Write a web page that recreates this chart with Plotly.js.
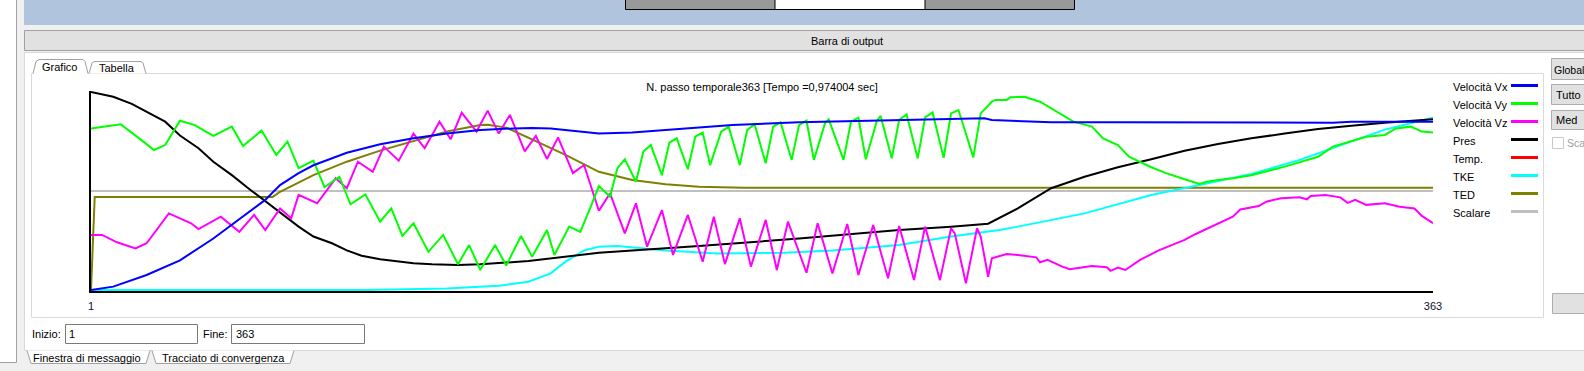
<!DOCTYPE html>
<html>
<head>
<meta charset="utf-8">
<script src="https://cdn.plot.ly/plotly-3.0.1.min.js"></script>
<style>
html,body{margin:0;padding:0;background:#f0f0f0;overflow:hidden;}
#chart{width:1584px;height:371px;}
</style>
</head>
<body>
<div id="chart"></div>
<script>
// ---------------- DATA (time step index, normalised value) ----------------
const chartTitle = 'N. passo temporale363 [Tempo =0,974004 sec]';
const tickSteps = [1, 363];
const tickLabels = ['1', '363'];
const seriesNames = ['Velocità Vx','Velocità Vy','Velocità Vz','Pres','Temp.','TKE','TED','Scalare'];

const vxStep = [1,7,16,25,34,43,48,52,57,61,66,70,79,88,97,106,115,120,125,134,138,147,156,174,192,210,228,242,244,251,260,278,305,336,341,363];
const vxVal  = [0.0,0.017,0.076,0.15,0.26,0.387,0.455,0.53,0.59,0.63,0.665,0.693,0.736,0.766,0.79,0.808,0.816,0.818,0.816,0.796,0.79,0.796,0.808,0.833,0.847,0.855,0.864,0.867,0.859,0.855,0.847,0.847,0.845,0.845,0.85,0.85];

const vyStep = [1,9,14,18,21,25,29,34,39,42,47,51,54,57,61,64,68,71,75,79,82,85,88,92,96,100,103,106,110,113,117,120,124,126,130,133,136,138,141,143,145,148,150,152,155,157,159,162,164,166,168,171,173,176,178,180,183,185,187,190,192,194,196,199,200,204,206,208,210,213,214,217,219,221,224,226,228,231,233,235,239,241,244,245,248,249,253,254,257,260,262,266,271,274,278,281,287,291,296,300,302,305,309,314,323,332,336,345,350,353,357,360,363];
const vyVal  = [0.816,0.837,0.766,0.707,0.732,0.855,0.833,0.778,0.825,0.727,0.805,0.682,0.749,0.615,0.653,0.519,0.572,0.433,0.483,0.345,0.412,0.273,0.337,0.193,0.278,0.13,0.227,0.101,0.227,0.124,0.273,0.168,0.303,0.177,0.32,0.294,0.43,0.525,0.471,0.615,0.66,0.547,0.699,0.732,0.58,0.744,0.766,0.61,0.774,0.795,0.631,0.80,0.825,0.631,0.808,0.837,0.64,0.825,0.847,0.657,0.833,0.855,0.657,0.842,0.862,0.657,0.85,0.87,0.66,0.855,0.879,0.665,0.859,0.887,0.665,0.872,0.897,0.668,0.892,0.909,0.67,0.892,0.951,0.96,0.96,0.973,0.976,0.968,0.951,0.918,0.892,0.85,0.825,0.766,0.732,0.673,0.62,0.59,0.559,0.535,0.547,0.556,0.564,0.58,0.623,0.673,0.724,0.774,0.783,0.816,0.825,0.80,0.795];

const vzStep = [1,4,8,13,16,22,28,30,36,41,45,48,52,55,57,62,67,70,73,77,80,84,88,91,95,98,101,105,108,111,114,118,121,124,127,131,134,138,141,145,148,151,155,158,162,166,169,172,176,179,183,186,189,194,197,201,205,208,212,216,219,223,226,230,233,234,237,240,241,243,244,248,251,256,257,259,263,265,271,275,276,278,280,284,289,292,296,299,305,309,311,316,318,322,327,329,330,334,338,340,342,345,350,354,358,360,363];
const vzVal  = [0.278,0.278,0.241,0.21,0.236,0.387,0.337,0.308,0.37,0.294,0.379,0.303,0.412,0.362,0.48,0.438,0.564,0.514,0.648,0.597,0.724,0.653,0.79,0.716,0.85,0.761,0.895,0.80,0.906,0.79,0.884,0.70,0.778,0.662,0.771,0.59,0.631,0.40,0.488,0.286,0.438,0.219,0.404,0.177,0.379,0.143,0.37,0.131,0.362,0.118,0.354,0.101,0.345,0.087,0.337,0.084,0.333,0.076,0.328,0.059,0.323,0.05,0.32,0.05,0.312,0.286,0.034,0.312,0.27,0.067,0.16,0.182,0.177,0.165,0.14,0.152,0.118,0.105,0.121,0.115,0.097,0.113,0.101,0.152,0.2,0.222,0.253,0.283,0.337,0.37,0.407,0.424,0.446,0.463,0.468,0.458,0.475,0.48,0.468,0.44,0.455,0.43,0.438,0.421,0.412,0.374,0.337];

const presStep = [1,7,12,16,21,25,30,34,39,43,47,52,57,61,66,70,74,79,88,93,100,106,111,119,138,165,192,219,233,243,251,260,269,278,287,296,305,314,323,332,341,350,363];
const presVal  = [1.0,0.976,0.94,0.90,0.85,0.78,0.716,0.648,0.58,0.52,0.463,0.387,0.32,0.27,0.236,0.20,0.173,0.155,0.135,0.13,0.126,0.13,0.135,0.146,0.188,0.222,0.26,0.303,0.32,0.335,0.412,0.514,0.572,0.62,0.66,0.703,0.737,0.766,0.79,0.813,0.83,0.845,0.862];

const tempStep = [1,363];
const tempVal  = [0.5,0.5];

const tkeStep = [1,75,97,111,119,125,129,134,138,143,156,170,188,201,219,233,246,251,269,287,300,314,327,341,350,363];
const tkeVal  = [0.0,0.0,0.008,0.022,0.042,0.084,0.143,0.2,0.219,0.222,0.2,0.185,0.188,0.2,0.227,0.27,0.303,0.32,0.387,0.48,0.53,0.586,0.657,0.749,0.81,0.87];

const tedStep = [1,2,50,52,61,70,79,88,97,106,108,113,120,129,138,147,156,165,177,363];
const tedVal  = [0.0,0.47,0.47,0.496,0.58,0.648,0.704,0.753,0.80,0.833,0.835,0.82,0.76,0.682,0.597,0.556,0.534,0.522,0.517,0.517];

const scalStep = [1,363];
const scalVal  = [0.5,0.5];

// ---------------- STYLE ----------------
const colors = {'Velocità Vx':'#0000ff','Velocità Vy':'#00ff00','Velocità Vz':'#ff00ff','Pres':'#000000','Temp.':'#ff0000','TKE':'#00ffff','TED':'#808000','Scalare':'#c0c0c0'};
const seriesData = {
  'Velocità Vx':[vxStep,vxVal], 'Velocità Vy':[vyStep,vyVal], 'Velocità Vz':[vzStep,vzVal],
  'Pres':[presStep,presVal], 'Temp.':[tempStep,tempVal], 'TKE':[tkeStep,tkeVal],
  'TED':[tedStep,tedVal], 'Scalare':[scalStep,scalVal]
};
const drawOrder = ['Temp.','Scalare','TED','TKE','Pres','Velocità Vz','Velocità Vy','Velocità Vx'];
const traces = drawOrder.map(n => ({
  type:'scatter', mode:'lines', name:n,
  x: seriesData[n][0], y: seriesData[n][1],
  line:{color:colors[n], width:2}, hoverinfo:'skip', showlegend:false
}));

// ---------------- PIXEL -> PAPER helpers for UI chrome ----------------
const W=1584, H=371, L=91, R=1433, T=91, B=291;
const px = x => (x-L)/(R-L);
const py = y => (B-y)/(B-T);
const FONT = 'Liberation Sans, Arial, sans-serif';
const shapes = [];
const ann = [];
function rect(x0,y0,x1,y1,fill,lc,lw){
  shapes.push({type:'rect',xref:'paper',yref:'paper',x0:px(x0),x1:px(x1),y0:py(y1),y1:py(y0),
    fillcolor:fill||'rgba(0,0,0,0)',line:{color:lc||'rgba(0,0,0,0)',width:lc?(lw||1):0},layer:'below'});
}
function line(x0,y0,x1,y1,c,w,layer){
  shapes.push({type:'line',xref:'paper',yref:'paper',x0:px(x0),x1:px(x1),y0:py(y0),y1:py(y1),
    line:{color:c,width:w||1},layer:layer||'below'});
}
function path(pts,fill,c){
  const d = pts.map((p,i)=>(i?'L':'M')+px(p[0])+','+py(p[1])).join(' ');
  shapes.push({type:'path',xref:'paper',yref:'paper',path:d,fillcolor:fill||'rgba(0,0,0,0)',line:{color:c,width:1},layer:'below'});
}
function text(x,y,s,anchor,color,size){
  ann.push({xref:'paper',yref:'paper',x:px(x),y:py(y),text:s,showarrow:false,xanchor:anchor||'left',yanchor:'middle',
    font:{family:FONT,size:size||11,color:color||'#000'}});
}

// left panel
rect(0,0,16.5,362.5,'#ffffff');
line(16.5,0,16.5,362.5,'#a0a0a0');
line(0,362.5,16.5,362.5,'#a0a0a0');
// blue band + progress bar
rect(24,0,1590,25,'#b0c4de');
rect(626,-2,775,9.5,'#999999');
rect(775,-2,925,9.5,'#ffffff');
rect(925,-2,1075,9.5,'#999999');
rect(625.5,-2,1074.5,9.5,null,'#000000',1);
line(775,-2,775,9.5,'#000000');
line(925,-2,925,9.5,'#000000');
// output bar
rect(24.5,30.5,1590,50.5,'#e1e1e1','#a0a0a0',1);
text(847,41,'Barra di output','center');
// main white panel
rect(24.5,52.5,1590,350.5,'#ffffff','#d9d9d9',1);
// chart frame
rect(31.5,73.5,1543.5,317.5,'#ffffff','#dadada',1);
// top tabs
path([[89,73.5],[92,63],[94,61.5],[141,61.5],[143,63],[146,73.5]],'#ffffff','#a0a0a0');
path([[33,73.5],[36,61.5],[39,59.5],[83,59.5],[85,61.5],[88,73.5]],'#ffffff','#a0a0a0');
line(34,73.5,87,73.5,'#ffffff',1);
text(59,67,'Grafico','center');
text(117,67.5,'Tabella','center');
// right side buttons
rect(1551.5,58.5,1600,79.5,'#e1e1e1','#adadad',1);
rect(1551.5,84.5,1600,104.5,'#e1e1e1','#adadad',1);
rect(1551.5,110.5,1600,129.5,'#e1e1e1','#adadad',1);
rect(1552.5,137.5,1563.5,148.5,'#ffffff','#c8c8c8',1);
rect(1552.5,293.5,1600,313.5,'#e1e1e1','#adadad',1);
text(1552,69.5,'Global','left','#000',10.5);
text(1554,95,'Tutto');
text(1554,120,'Med');
text(1565,143,'Sca','left','#a0a0a0',10.5);
// Inizio / Fine row
text(30,334,'Inizio:');
rect(65.5,324.5,197.5,343.5,'#ffffff','#7a7a7a',1);
text(67,334,'1');
text(201,334,'Fine:');
rect(231.5,324.5,364.5,343.5,'#ffffff','#7a7a7a',1);
text(234,334,'363');
// bottom tabs
path([[27,350.5],[31,363.5],[146,363.5],[150,350.5]],'#ffffff','#a0a0a0');
path([[152,350.5],[156,363.5],[290,363.5],[294,350.5]],'#ffffff','#a0a0a0');
text(87,357.5,'Finestra di messaggio','center');
text(223,357.5,'Tracciato di convergenza','center');

// legend (text left, sample line right)
const legendY0 = 85.5, legendDY = 18;
seriesNames.forEach((n,i)=>{
  const y = legendY0 + i*legendDY;
  text(1451,y+1,n,'left');
  line(1511,y,1538,y,colors[n],3,'above');
});

const layout = {
  width:W, height:H,
  margin:{l:L, r:W-R, t:T, b:H-B, pad:0},
  paper_bgcolor:'#f0f0f0', plot_bgcolor:'rgba(0,0,0,0)',
  font:{family:FONT, size:11, color:'#000'},
  title:{text:chartTitle, xref:'paper', x:0.5, xanchor:'center', yref:'container', y:1-87/H, yanchor:'middle',
    font:{family:FONT,size:11,color:'#000'}},
  showlegend:false,
  xaxis:{range:[1,363], showgrid:false, zeroline:false, showline:true, linecolor:'#000', linewidth:2,
    tickmode:'array', tickvals:tickSteps, ticktext:tickLabels, ticks:'outside', ticklen:4, tickcolor:'rgba(0,0,0,0)',
    tickfont:{family:FONT,size:11,color:'#101030'}},
  yaxis:{range:[-0.005,1.005], showgrid:false, zeroline:false, showline:true, linecolor:'#000', linewidth:2,
    showticklabels:false, ticks:''},
  shapes:shapes, annotations:ann
};
Plotly.newPlot('chart', traces, layout, {staticPlot:true, displayModeBar:false});
</script>
</body>
</html>
